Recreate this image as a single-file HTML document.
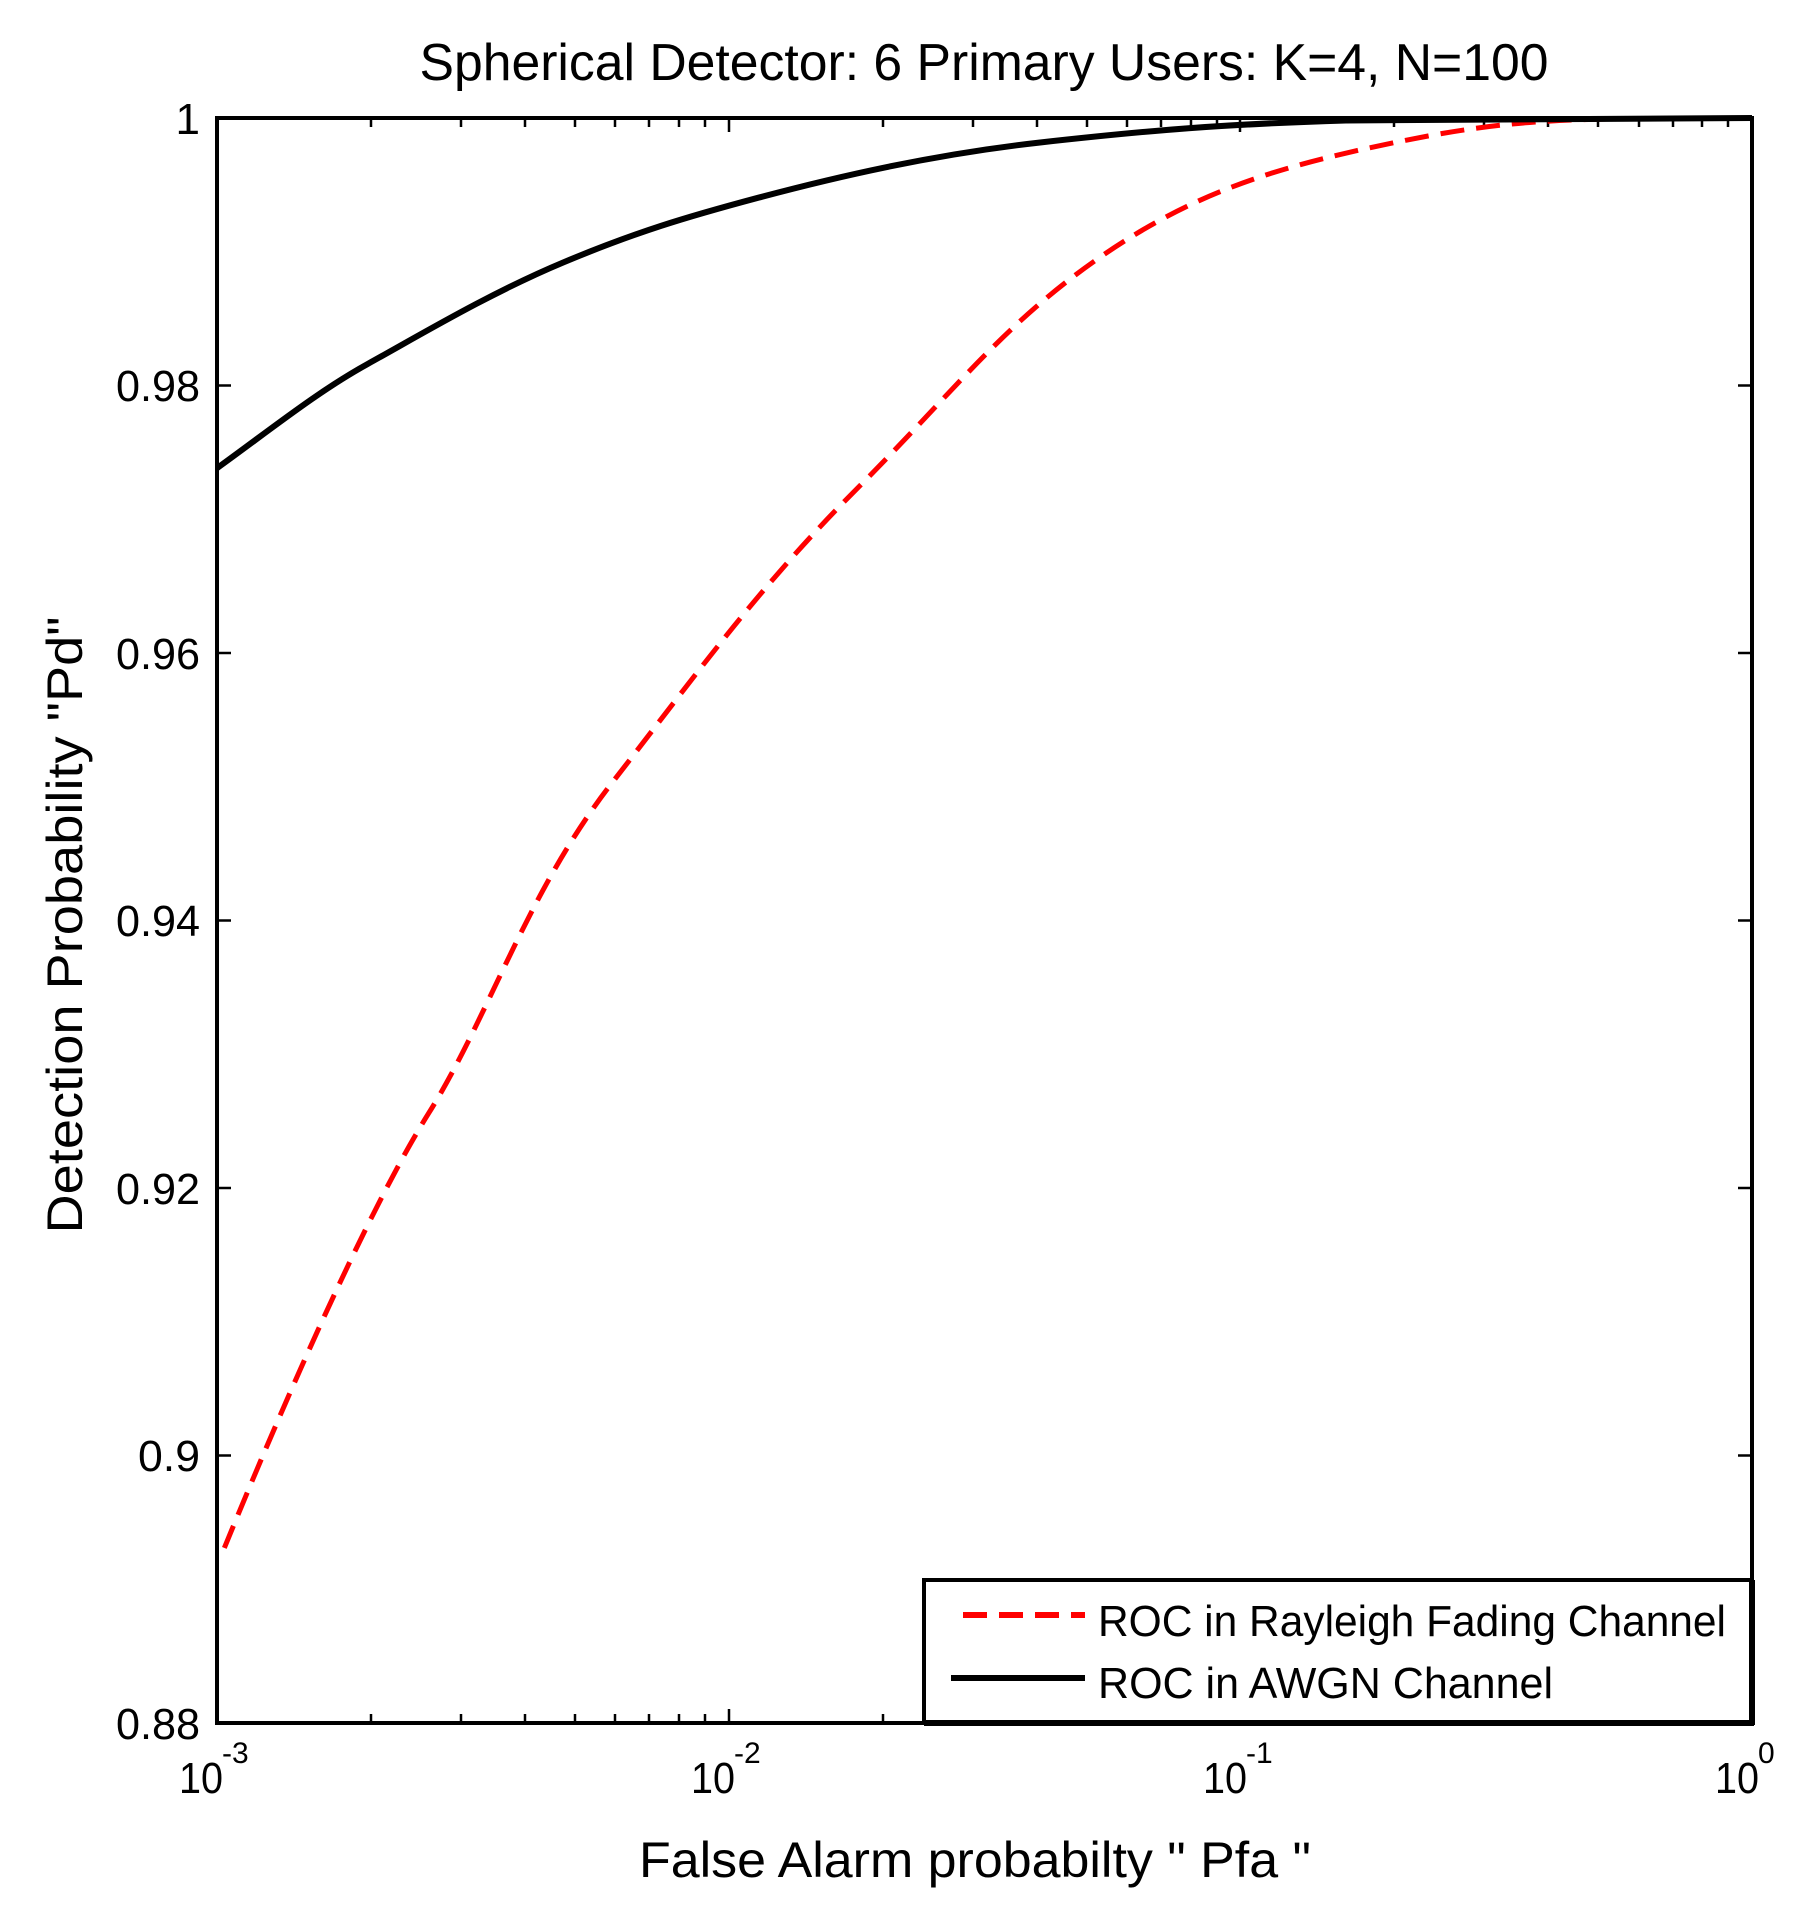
<!DOCTYPE html>
<html><head><meta charset="utf-8"><style>
html,body{margin:0;padding:0;background:#fff;}
svg{display:block;font-family:"Liberation Sans",sans-serif;}
</style></head><body>
<svg width="1794" height="1919" viewBox="0 0 1794 1919" xmlns="http://www.w3.org/2000/svg">
<rect width="1794" height="1919" fill="#fff"/>
<text x="984" y="80" font-size="52" text-anchor="middle" textLength="1129" lengthAdjust="spacingAndGlyphs">Spherical Detector: 6 Primary Users: K=4, N=100</text>
<g stroke="#000" stroke-width="2.5">
<line x1="217" y1="385.5" x2="231" y2="385.5"/><line x1="1752" y1="385.5" x2="1738" y2="385.5"/>
<line x1="217" y1="653" x2="231" y2="653"/><line x1="1752" y1="653" x2="1738" y2="653"/>
<line x1="217" y1="920.5" x2="231" y2="920.5"/><line x1="1752" y1="920.5" x2="1738" y2="920.5"/>
<line x1="217" y1="1188" x2="231" y2="1188"/><line x1="1752" y1="1188" x2="1738" y2="1188"/>
<line x1="217" y1="1455.5" x2="231" y2="1455.5"/><line x1="1752" y1="1455.5" x2="1738" y2="1455.5"/>
</g>
<path stroke="#000" stroke-width="2.5" fill="none" d="
M371 1723v-9M461 1723v-9M525 1723v-9M575 1723v-9M615 1723v-9M649 1723v-9M679 1723v-9M705 1723v-9M729 1723v-14
M883 1723v-9M973 1723v-9M1037 1723v-9M1087 1723v-9M1127 1723v-9M1161 1723v-9M1191 1723v-9M1217 1723v-9M1240 1723v-14
M1394 1723v-9M1484 1723v-9M1548 1723v-9M1598 1723v-9M1639 1723v-9M1673 1723v-9M1702 1723v-9M1728 1723v-9
M371 118v9M461 118v9M525 118v9M575 118v9M615 118v9M649 118v9M679 118v9M705 118v9M729 118v14
M883 118v9M973 118v9M1037 118v9M1087 118v9M1127 118v9M1161 118v9M1191 118v9M1217 118v9M1240 118v14
M1394 118v9M1484 118v9M1548 118v9M1598 118v9M1639 118v9M1673 118v9M1702 118v9M1728 118v9"/>
<g font-size="44" text-anchor="end">
<text x="200" y="134">1</text>
<text x="200" y="401" textLength="84" lengthAdjust="spacingAndGlyphs">0.98</text>
<text x="200" y="669" textLength="84" lengthAdjust="spacingAndGlyphs">0.96</text>
<text x="200" y="936" textLength="84" lengthAdjust="spacingAndGlyphs">0.94</text>
<text x="200" y="1204" textLength="84" lengthAdjust="spacingAndGlyphs">0.92</text>
<text x="200" y="1471" textLength="62" lengthAdjust="spacingAndGlyphs">0.9</text>
<text x="200" y="1739" textLength="84" lengthAdjust="spacingAndGlyphs">0.88</text>
</g>
<g font-size="44">
<text x="179" y="1793" textLength="44" lengthAdjust="spacingAndGlyphs">10</text><text x="222" y="1763" font-size="30">-3</text>
<text x="691" y="1793" textLength="44" lengthAdjust="spacingAndGlyphs">10</text><text x="734" y="1763" font-size="30">-2</text>
<text x="1203" y="1793" textLength="44" lengthAdjust="spacingAndGlyphs">10</text><text x="1246" y="1763" font-size="30">-1</text>
<text x="1715" y="1793" textLength="44" lengthAdjust="spacingAndGlyphs">10</text><text x="1758" y="1763" font-size="30">0</text>
</g>
<text x="975" y="1877" font-size="50" text-anchor="middle" textLength="672" lengthAdjust="spacingAndGlyphs">False Alarm probabilty " Pfa "</text>
<text transform="translate(82,925) rotate(-90)" font-size="50" text-anchor="middle" textLength="617" lengthAdjust="spacingAndGlyphs">Detection Probability  "Pd"</text>
<g transform="translate(217,118) scale(1.2231,1.2243) translate(-177,-97)" fill="none">
<path vector-effect="non-scaling-stroke" stroke="#f00" stroke-width="5" stroke-dasharray="24 12" d="M183,1265 C230,1150 300,990 350,910 S430,730 500,640 S620,480 700,400 S820,265 900,210 S1050,135 1150,115 S1300,98 1432,97"/>
<path vector-effect="non-scaling-stroke" stroke="#000" stroke-width="6" d="M177,383 C220,352 260,320 300,298 S400,240 460,215 S560,178 620,162 S760,127 850,117 S1000,102 1100,99 L1432,97"/>
</g>
<rect x="217" y="118" width="1535" height="1605" fill="none" stroke="#000" stroke-width="4"/>
<rect x="924" y="1580" width="828" height="143" fill="#fff" stroke="#000" stroke-width="4"/>
<line x1="1752" y1="1580" x2="1752" y2="1725" stroke="#000" stroke-width="6"/>
<line x1="924" y1="1723" x2="1754" y2="1723" stroke="#000" stroke-width="6"/>
<line x1="963" y1="1615" x2="1085" y2="1615" stroke="#f00" stroke-width="6" stroke-dasharray="24 12"/>
<line x1="951" y1="1678" x2="1085" y2="1678" stroke="#000" stroke-width="6"/>
<g font-size="44">
<text x="1098" y="1636" textLength="628" lengthAdjust="spacingAndGlyphs">ROC in Rayleigh Fading Channel</text>
<text x="1098" y="1698" textLength="455" lengthAdjust="spacingAndGlyphs">ROC in AWGN Channel</text>
</g>
</svg>
</body></html>
